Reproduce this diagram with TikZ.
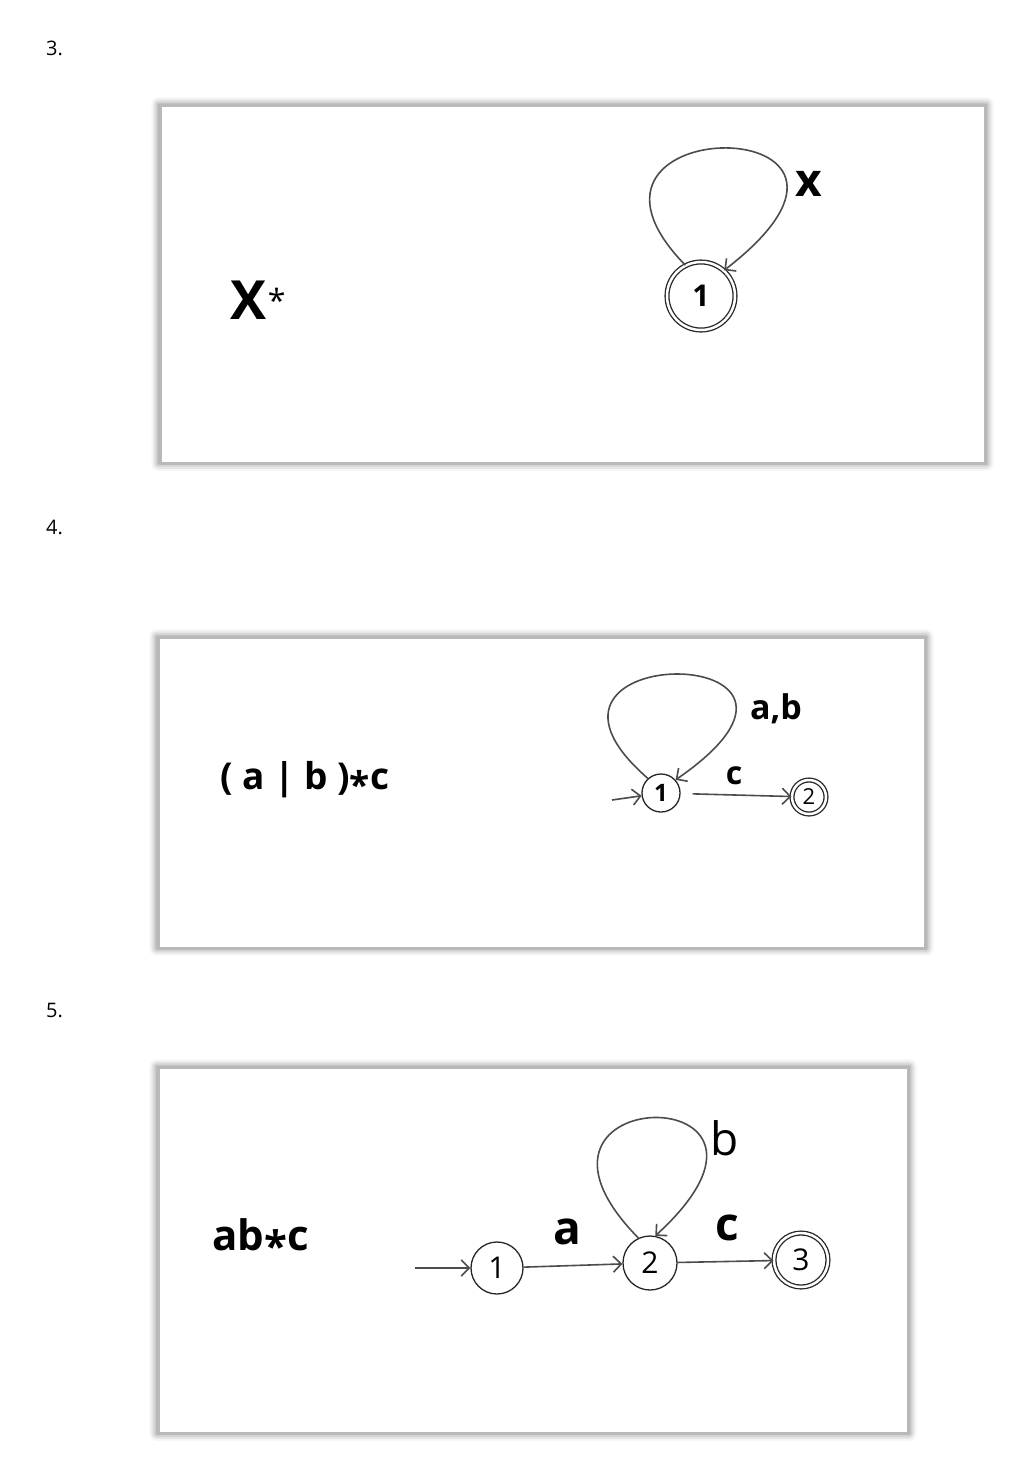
\documentclass[tikz,border=0pt]{standalone}
\usepackage{fontspec}
\setmainfont{Open Sans}
\usetikzlibrary{arrows.meta,positioning,shadows.blur}

\tikzset{
  panel/.style={draw=gray!55,line width=3pt,fill=white,
    blur shadow={shadow xshift=0pt,shadow yshift=0pt,shadow blur radius=7pt,shadow opacity=55,shadow scale=1.004}},
  plain state/.style={circle,draw=black!85,line width=1.3pt,inner sep=0pt,minimum size=#1},
  final state/.style={plain state=#1,double,double distance=2.5pt},
  trans/.style={draw=black!70,line width=1.6pt,-{Straight Barb[length=8pt,width=16pt]}},
  bigtext/.style={font=\bfseries\fontsize{#1}{#1}\selectfont,inner sep=0pt},
  thintext/.style={font=\fontsize{#1}{#1}\selectfont,inner sep=0pt}
}
\newcommand{\midstar}[1]{\raisebox{#1}{*}}

\begin{document}
\begin{tikzpicture}[x=1pt,y=-1pt]
\useasboundingbox (0,0) rectangle (1020,1460);

% numbering
\node[thintext=20,anchor=west] (num3) at (46,48) {3.};
\node[thintext=20,anchor=west] (num4) at (46,527) {4.};
\node[thintext=20,anchor=west] (num5) at (46,1010) {5.};

% panel 3: x*
\draw[panel] (160,105) rectangle (985,463);
\node[anchor=west,inner sep=0pt] (re3) at (230,300) {{\bfseries\fontsize{54}{54}\selectfont X}\,{\fontsize{32}{32}\selectfont\midstar{.4ex}}};
\node[final state=68pt,font=\bfseries\fontsize{30}{30}\selectfont] (q11) at (701,296) {1};
\draw[trans] (q11.117) .. controls +(-153,-157) and +(210,-162) .. (q11.48);
\node[bigtext=46] (lx) at (809,184) {x};

% panel 4: (a|b)*c
\draw[panel] (158,637) rectangle (925,948);
\node[bigtext=37,anchor=west] (re4) at (220,780) {( a | b )\midstar{-.45ex}c};
\node[plain state=38pt,font=\bfseries\fontsize{24}{24}\selectfont] (q21) at (661,793) {1};
\node[final state=34pt,font=\fontsize{22}{22}\selectfont] (q22) at (809,797) {2};
\coordinate (in2) at (612,800);
\draw[trans] (in2) -- (q21);
\draw[trans,shorten <=12pt] (q21) -- (q22);
\draw[trans] (q21.132) .. controls +(-161,-140) and +(203,-140) .. (q21.42);
\node[bigtext=32] (lc2) at (734,776) {c};
\node[bigtext=34] (lab) at (776,709) {a,b};

% panel 5: ab*c
\draw[panel] (158,1067) rectangle (908,1433);
\node[bigtext=42,anchor=west] (re5) at (212,1240) {ab\midstar{-.5ex}c};
\node[plain state=52pt,font=\fontsize{30}{30}\selectfont] (q31) at (497,1268) {1};
\node[plain state=54pt,font=\fontsize{30}{30}\selectfont] (q32) at (650,1263) {2};
\node[final state=54pt,font=\fontsize{30}{30}\selectfont] (q33) at (801,1260) {3};
\coordinate (in3) at (415,1268);
\draw[trans] (in3) -- (q31);
\draw[trans] (q31) -- (q32);
\draw[trans] (q32) -- (q33);
\draw[trans] (q32.115) .. controls +(-155,-158) and +(175,-160) .. (q32.79);
\node[bigtext=46] (la3) at (567,1232) {a};
\node[bigtext=46] (lc3) at (727,1228) {c};
\node[thintext=46] (lb3) at (725,1138) {b};
\end{tikzpicture}
\end{document}
